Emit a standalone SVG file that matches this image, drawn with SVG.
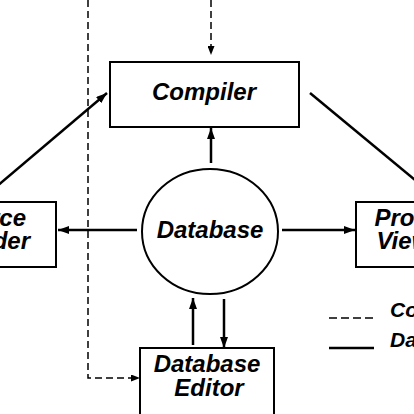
<svg xmlns="http://www.w3.org/2000/svg" width="414" height="414" viewBox="0 0 414 414">
<defs>
<style>
.box{fill:#fff;stroke:#000;stroke-width:2}
.lbl{font-family:"Liberation Sans",Arial,sans-serif;font-weight:bold;font-style:italic;font-size:24px;fill:#000}
.leg{font-family:"Liberation Sans",Arial,sans-serif;font-weight:bold;font-style:italic;font-size:21px;fill:#000}
.data{fill:none;stroke:#000;stroke-width:2.5}
.ctrl{fill:none;stroke:#000;stroke-width:1.5;stroke-dasharray:7,4}
</style>
<marker id="ah" markerUnits="userSpaceOnUse" markerWidth="11" markerHeight="8" refX="11" refY="4" orient="auto">
<path d="M0,0 L11,4 L0,8 z" fill="#000"/>
</marker>
<marker id="ahs" markerUnits="userSpaceOnUse" markerWidth="9" markerHeight="7" refX="9" refY="3.5" orient="auto">
<path d="M0,0 L9,3.5 L0,7 z" fill="#000"/>
</marker>
</defs>
<rect width="414" height="414" fill="#fff"/>
<g id="connectors">
<path class="ctrl" d="M211,0 V55" marker-end="url(#ahs)"/>
<path class="ctrl" d="M88,0 V378 H140" marker-end="url(#ahs)"/>
<path class="data" d="M-4,187 L107,93" marker-end="url(#ah)"/>
<path class="data" d="M310,93 L420,184"/>
<path class="data" d="M211,163 V128" marker-end="url(#ah)"/>
<path class="data" d="M137,230 H58" marker-end="url(#ah)"/>
<path class="data" d="M282,230 H355" marker-end="url(#ah)"/>
<path class="data" d="M193,345 V298" marker-end="url(#ah)"/>
<path class="data" d="M224,299 V348" marker-end="url(#ah)"/>
</g>
<g id="compiler">
<rect class="box" x="110" y="62" width="189" height="65"/>
<text class="lbl" x="204" y="100" text-anchor="middle">Compiler</text>
</g>
<g id="database">
<ellipse class="box" cx="210" cy="231.5" rx="68" ry="62.5"/>
<text class="lbl" x="210" y="238" text-anchor="middle">Database</text>
</g>
<g id="source-reader">
<rect class="box" x="-80" y="202" width="136" height="65"/>
<text class="lbl" x="26" y="226" text-anchor="end">Source</text>
<text class="lbl" x="30" y="249" text-anchor="end">Reader</text>
</g>
<g id="program-viewer">
<rect class="box" x="356" y="202" width="136" height="65"/>
<text class="lbl" x="374.5" y="226" text-anchor="start">Program</text>
<text class="lbl" x="376.5" y="249" text-anchor="start">Viewer</text>
</g>
<g id="database-editor">
<rect class="box" x="140" y="348" width="134" height="80"/>
<text class="lbl" x="207" y="372" text-anchor="middle">Database</text>
<text class="lbl" x="209" y="396" text-anchor="middle">Editor</text>
</g>
<g id="legend">
<path class="ctrl" d="M329,318 H374" style="stroke-dasharray:8,4"/>
<path class="data" d="M329,348 H374"/>
<text class="leg" x="390" y="317">Control</text>
<text class="leg" x="390" y="347">Data</text>
</g>
</svg>
